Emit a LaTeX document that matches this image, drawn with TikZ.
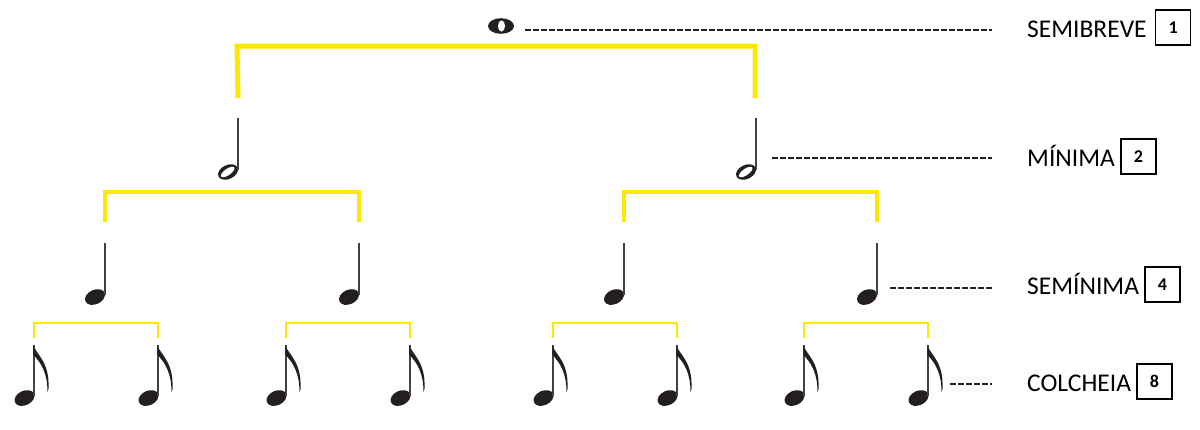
\documentclass[tikz,border=0pt]{standalone}
\usepackage{fontspec}
\setmainfont{Carlito}
\usetikzlibrary{calc}
\definecolor{ylw}{RGB}{255,232,0}
\definecolor{ink}{RGB}{35,31,32}
\begin{document}
\begin{tikzpicture}[x=1pt,y=-1pt,
  stemline/.style={draw=ink!85,line width=1.4},
  brk1/.style={draw=ylw,line width=5},
  brk2/.style={draw=ylw,line width=3.4},
  brk3/.style={draw=ylw,line width=2},
  dashline/.style={draw=ink,line width=1.8,dash pattern=on 5.5pt off 2.5pt},
  lbl/.style={anchor=base west,inner sep=0,font=\fontsize{25.5}{30}\selectfont,text=black},
  numbox/.style={draw=black,line width=1.5,minimum size=35,inner sep=0,anchor=west,font=\fontsize{18}{20}\selectfont\bfseries},
  quarter/.pic={
    \fill[ink,shift={(-10,0)},rotate=25] (0,0) ellipse (10.5 and 7.2);
    \draw[stemline] (0,-2) -- (0,-54);
  },
  eighth/.pic={
    \fill[ink,shift={(-9.5,0)},rotate=25] (0,0) ellipse (10.5 and 7.2);
    \draw[stemline] (0,-2) -- (0,-53);
    \fill[ink] (-0.7,-53) .. controls (1.5,-44) and (16,-37) .. (14.5,-9) -- (13.4,-6)
       .. controls (13.8,-24) and (7,-36) .. (-0.7,-43) -- cycle;
  },
  minim/.pic={
    \fill[ink,shift={(-10,0)},rotate=25] (0,0) ellipse (10.5 and 7);
    \fill[white,shift={(-10.3,0)},rotate=35] (0,0) ellipse (8 and 3.2);
    \draw[stemline] (0,-2) -- (0,-54);
  }
]
\useasboundingbox (0,0) rectangle (1200,429);
\fill[white] (0,0) rectangle (1200,429);

% semibreve
\fill[ink] (501,26) ellipse (13 and 7.8);
\fill[white] (501.5,26) ellipse (3.5 and 5.6);
\coordinate (sb) at (501,26);

% minims
\pic at (238,172) {minim};
\pic at (756,172) {minim};
\coordinate (m1) at (238,118);
\coordinate (m2) at (756,118);

% quarters
\foreach \x [count=\i] in {105,359,624,877}{
  \pic at (\x,297) {quarter};
  \coordinate (q\i) at (\x,243);
}
% eighths
\foreach \x [count=\i] in {34,158,286,410,553,677,804,928}{
  \pic at (\x,398) {eighth};
  \coordinate (e\i) at (\x,345);
}

% brackets
\draw[brk1] ($(m1)+(0,-20)$) -- (237,46) -- (755,46) -- ($(m2)+(-1,-20)$);
\draw[brk2] ($(q1)+(0,-21)$) |- ($(q2)+(0,-51)$) -- ($(q2)+(0,-21)$);
\draw[brk2] ($(q3)+(0,-21)$) |- ($(q4)+(0,-51)$) -- ($(q4)+(0,-21)$);
\foreach \a/\b in {1/2,3/4,5/6,7/8}{
  \draw[brk3] ($(e\a)+(0,-7)$) |- ($(e\b)+(0,-22)$) -- ($(e\b)+(0,-7)$);
}

% labels
\node[lbl] (t1) at (1027,37) {SEMIBREVE};
\node[numbox] (b1) at ($(t1.base east)+(8,-9.5)$) {1};
\node[lbl] (t2) at (1027,166) {MÍNIMA};
\node[numbox] (b2) at ($(t2.base east)+(5,-9.5)$) {2};
\node[lbl] (t3) at (1027,294) {SEMÍNIMA};
\node[numbox] (b3) at ($(t3.base east)+(5,-9.5)$) {4};
\node[lbl] (t4) at (1027,391) {COLCHEIA};
\node[numbox] (b4) at ($(t4.base east)+(5,-9.5)$) {8};

% dashed leaders
\coordinate (d1) at (992,30);
\coordinate (d2) at (992,158);
\coordinate (d3) at (992,288);
\coordinate (d4) at (992,384);
\draw[dashline] ($(sb)+(24,4)$) -- (d1);
\draw[dashline] ($(m2)+(16,40)$) -- (d2);
\draw[dashline] ($(q4)+(13,45)$) -- (d3);
\draw[dashline] ($(e8)+(22,39)$) -- (d4);
\end{tikzpicture}
\end{document}
